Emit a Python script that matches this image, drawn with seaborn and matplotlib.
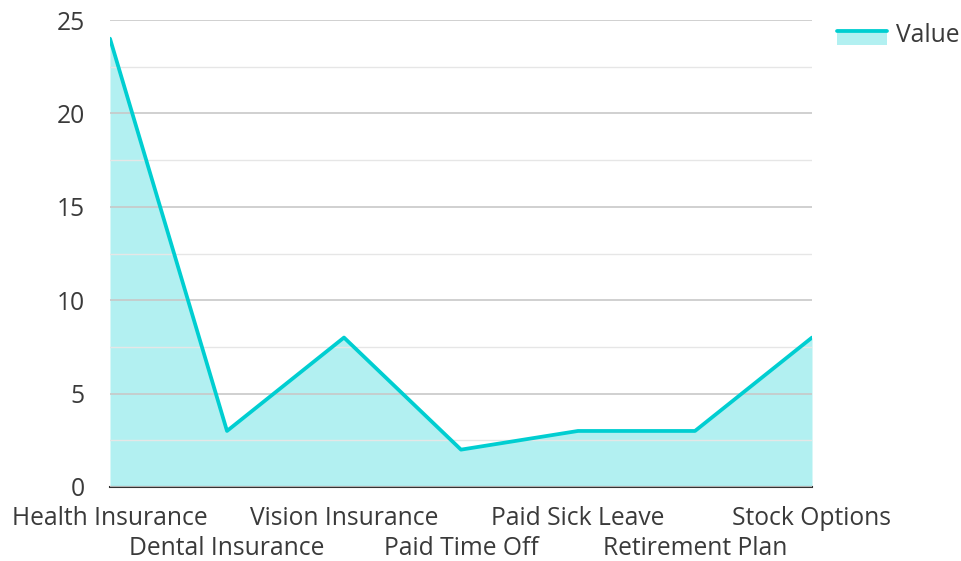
import matplotlib
matplotlib.use("Agg")
import matplotlib.pyplot as plt
import seaborn as sns
import pandas as pd
from matplotlib.patches import Rectangle
from matplotlib.lines import Line2D
from matplotlib.ticker import MultipleLocator

benefits = ["Health Insurance", "Dental Insurance", "Vision Insurance", "Paid Time Off",
            "Paid Sick Leave", "Retirement Plan", "Stock Options"]
values = [24, 3, 8, 2, 3, 3, 8]

df = pd.DataFrame({"benefit": benefits, "value": values, "pos": range(len(benefits))})

sns.set_style("white")
plt.rcParams["font.family"] = ["Open Sans", "DejaVu Sans"]

color = "#00CED1"
text_color = "#3a3a3a"
fs = 17.7

fig = plt.figure(figsize=(9.61, 5.61), dpi=100)
ax = fig.add_axes([110 / 961, 1 - 487 / 561, (812 - 110) / 961, (487 - 20) / 561])

ax.fill_between(df["pos"], df["value"], color=color, alpha=0.3, linewidth=0, zorder=1)
sns.lineplot(data=df, x="pos", y="value", color=color, linewidth=2.7, ax=ax, zorder=3)

ax.set_xlim(0, len(benefits) - 1)
ax.set_ylim(0, 25)
ax.yaxis.set_major_locator(MultipleLocator(5))
ax.yaxis.set_minor_locator(MultipleLocator(2.5))
ax.set_axisbelow(False)
ax.grid(which="major", axis="y", color="#c8c8c8", linewidth=1.2)
ax.grid(which="minor", axis="y", color="#e6e6e6", linewidth=1.0)
ax.grid(which="major", axis="x", visible=False)

ax.set_xticks(df["pos"])
ax.set_xticklabels(benefits)
ax.tick_params(axis="both", which="both", length=0, labelsize=fs, colors=text_color)
ax.tick_params(axis="x", pad=13.5)
ax.tick_params(axis="y", pad=18)
for i, tick in enumerate(ax.xaxis.get_major_ticks()):
    if i % 2 == 1:
        tick.set_pad(13.5 + 22)
ax.set_xlabel("")
ax.set_ylabel("")

for s in ["top", "right", "left"]:
    ax.spines[s].set_visible(False)
ax.spines["bottom"].set_color("#333333")
ax.spines["bottom"].set_linewidth(1.5)


class AreaHandler:
    def legend_artist(self, legend, orig_handle, fontsize, handlebox):
        x0, y0 = handlebox.xdescent, handlebox.ydescent
        w, h = handlebox.width, handlebox.height
        rect = Rectangle((x0, y0 - h * 0.15), w, h, facecolor=color, alpha=0.3,
                         edgecolor="none", transform=handlebox.get_transform())
        line = Line2D([x0, x0 + w], [y0 + h * 0.75, y0 + h * 0.75], color=color, linewidth=2.7,
                      transform=handlebox.get_transform())
        handlebox.add_artist(rect)
        handlebox.add_artist(line)
        return rect


proxy = Rectangle((0, 0), 1, 1)
leg = ax.legend([proxy], ["Value"], handler_map={Rectangle: AreaHandler()},
                loc="upper left", bbox_to_anchor=(1.004, 1.042), frameon=False,
                fontsize=fs, handlelength=2.05, handleheight=0.6, handletextpad=0.37)
for t in leg.get_texts():
    t.set_color(text_color)

fig.savefig("out.png", dpi=100)
